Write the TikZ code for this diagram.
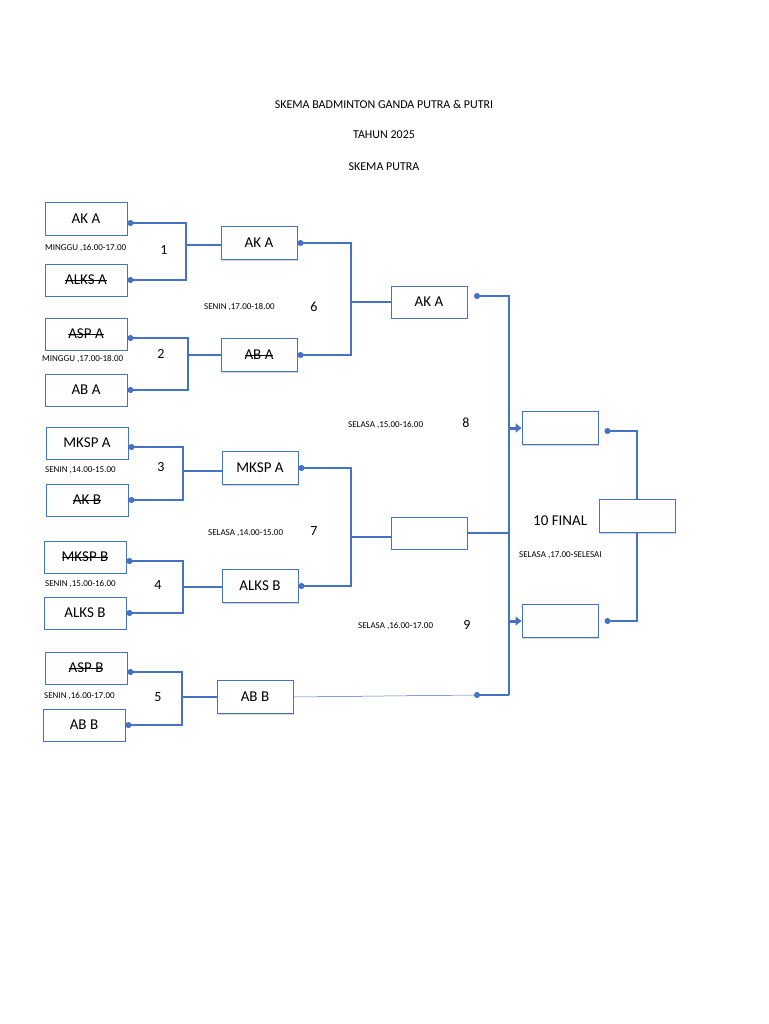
\documentclass[tikz,border=0pt]{standalone}
\usepackage{fontspec}
\setmainfont{Carlito}
\usetikzlibrary{arrows.meta,shadows}
\newsavebox\strkbox
\newcommand\strk[1]{\sbox\strkbox{#1}\rlap{\usebox\strkbox}\rule[0.3em]{\wd\strkbox}{0.7pt}}
\definecolor{bl}{RGB}{68,114,196}
\begin{document}
\begin{tikzpicture}[x=1pt,y=-1pt,
 box/.style={draw=bl,line width=1pt,fill=white,minimum width=82pt,minimum height=32pt,inner sep=0pt,font=\fontsize{15}{15}\selectfont,drop shadow={shadow xshift=1.2pt,shadow yshift=-1.2pt,opacity=0.35}},
 rbox/.style={box,minimum width=76pt,minimum height=33pt},
 conn/.style={draw=bl,line width=1.4pt},
 dconn/.style={conn,{Circle[length=6pt]}-},
 lab/.style={font=\fontsize{9}{9}\selectfont,anchor=west,inner sep=0},
 num/.style={font=\fontsize{14}{14}\selectfont,inner sep=0},
 ttl/.style={font=\fontsize{12}{12}\selectfont}]
\useasboundingbox (0,0) rectangle (768,1024);
\node[ttl] (t1) at (384,104) {SKEMA BADMINTON GANDA PUTRA \& PUTRI};
\node[ttl] (t2) at (384,135) {TAHUN 2025};
\node[ttl] (t3) at (384,167) {SKEMA PUTRA};
% round 1
\node[box] (a1) at (86,219) {AK A};
\node[box] (b1) at (86,280) {\strk{ALKS A}};
\node[box] (a2) at (86,334) {\strk{ASP A}};
\node[box] (b2) at (86,390) {AB A};
\node[box] (a3) at (87,443) {MKSP A};
\node[box] (b3) at (87,500) {\strk{AK B}};
\node[box] (a4) at (85,557) {\strk{MKSP B}};
\node[box] (b4) at (85,613) {ALKS B};
\node[box] (a5) at (86,668) {\strk{ASP B}};
\node[box] (b5) at (84,725) {AB B};
% round 2
\node[rbox] (r1) at (259,243) {AK A};
\node[rbox] (r2) at (259,355) {\strk{AB A}};
\node[rbox] (r3) at (260,468) {MKSP A};
\node[rbox] (r4) at (260,586) {ALKS B};
\node[rbox] (r5) at (255,697) {AB B};
% round 3
\node[rbox,minimum height=32pt] (s1) at (429,302) {AK A};
\node[rbox,minimum height=32pt] (s2) at (429,533) {};
\node[rbox,minimum height=33pt] (q1) at (560,428) {};
\node[rbox,minimum height=33pt] (q2) at (560,621) {};
\node[rbox,minimum height=33pt] (f) at (637,516) {};
% labels
\node[lab] (l1) at (45,248) {MINGGU ,16.00-17.00};
\node[num] (n1) at (164,250) {1};
\node[lab] (l2) at (42,359) {MINGGU ,17.00-18.00};
\node[num] (n2) at (161,354) {2};
\node[lab] (l3) at (45,470) {SENIN ,14.00-15.00};
\node[num] (n3) at (161,467) {3};
\node[lab] (l4) at (45,584) {SENIN ,15.00-16.00};
\node[num] (n4) at (158,585) {4};
\node[lab] (l5) at (44,696) {SENIN ,16.00-17.00};
\node[num] (n5) at (158,697) {5};
\node[lab] (l6) at (204,307) {SENIN ,17.00-18.00};
\node[num] (n6) at (314,307) {6};
\node[lab] (l7) at (208,533) {SELASA ,14.00-15.00};
\node[num] (n7) at (314,531) {7};
\node[lab] (l8) at (348,425) {SELASA ,15.00-16.00};
\node[num] (n8) at (466,423) {8};
\node[lab] (l9) at (358,626) {SELASA ,16.00-17.00};
\node[num] (n9) at (467,625) {9};
\node[font=\fontsize{15}{15}\selectfont,anchor=west,inner sep=0] (l10) at (533,521) {10 FINAL};
\node[lab] (l11) at (519,555) {SELASA ,17.00-SELESAI};
% junctions
\coordinate (j1) at (186,245);
\coordinate (j2) at (188,355);
\coordinate (j3) at (183,471);
\coordinate (j4) at (183,587);
\coordinate (j5) at (182,697);
\coordinate (k1) at (351,302);
\coordinate (k2) at (351,537);
\coordinate (m) at (509,500);
\coordinate (fm) at (639,500);
% connectors round 1
\foreach \a/\b/\j/\r in {a1/b1/j1/r1,a2/b2/j2/r2,a3/b3/j3/r3,a4/b4/j4/r4,a5/b5/j5/r5}{
 \draw[dconn] ([yshift=-4pt]\a.east) -| (\j);
 \draw[dconn] (\b.east) -| (\j);
 \draw[conn] (\j) -- (\r.west|-\j);
}
% round 2
\draw[dconn] (r1.east) -| (k1);
\draw[dconn] (r2.east) -| (k1);
\draw[conn] (k1) -- (s1.west|-k1);
\draw[dconn] (r3.east) -| (k2);
\draw[dconn] (r4.east) -| (k2);
\draw[conn] (k2) -- (s2.west|-k2);
% round 3
\coordinate (d1) at (474,296);
\coordinate (d5) at (474,695);
\draw[dconn] (d1) -| (m);
\draw[conn] (s2.east) -- (m|-s2.east);
\draw[conn] (m|-d1) -- (m|-d5);
\draw[dconn] (d5) -- (m|-d5);
\draw[draw=bl,line width=0.5pt] (r5.east) -- (d5);
\draw[conn,-{Triangle[length=6pt,width=9pt]},line width=3pt] (m|-q1.west) -- (q1.west);
\draw[conn,-{Triangle[length=6pt,width=9pt]},line width=3pt] (m|-q2.west) -- (q2.west);
\draw[dconn] ([xshift=6pt,yshift=-3pt]q1.east) -| (f.north);
\draw[dconn] ([xshift=6pt]q2.east) -| (f.south);
\end{tikzpicture}
\end{document}
